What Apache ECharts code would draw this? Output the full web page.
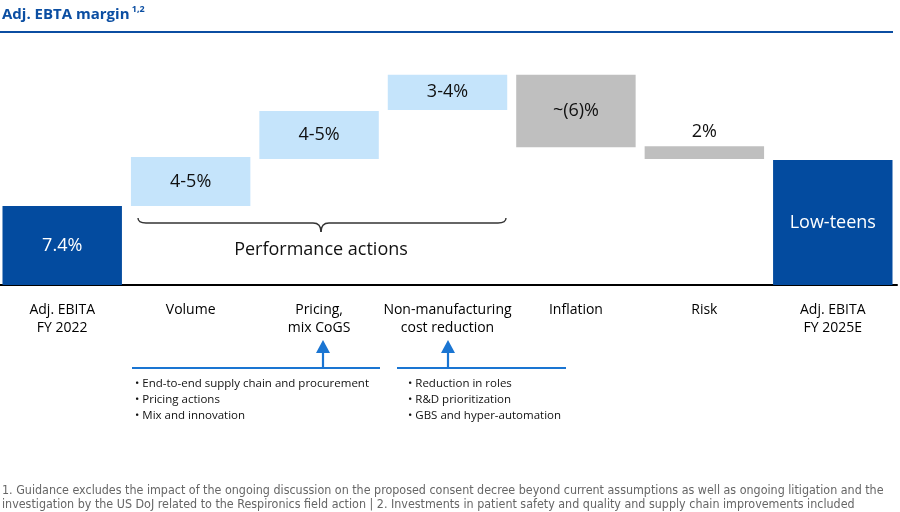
<!DOCTYPE html>
<html>
<head>
<meta charset="utf-8">
<script src="https://cdn.jsdelivr.net/npm/echarts@6/dist/echarts.min.js"></script>
<style>html,body{margin:0;padding:0;background:#fff}#c{width:900px;height:512px}</style>
</head>
<body>
<div id="c"></div>
<script>
var categories = ['Adj. EBITA\nFY 2022', 'Volume', 'Pricing,\nmix CoGS', 'Non-manufacturing\ncost reduction', 'Inflation', 'Risk', 'Adj. EBITA\nFY 2025E'];
var barBase = [0, 7.4, 11.8, 16.4, 12.9, 11.8, 0];
var barTop = [7.4, 12.0, 16.3, 19.7, 19.7, 13.0, 11.7];
var barKind = ['total', 'up', 'up', 'up', 'down', 'down', 'total'];
var barLabels = ['7.4%', '4-5%', '4-5%', '3-4%', '~(6)%', '2%', 'Low-teens'];
var listPricing = ['• End-to-end supply chain and procurement', '• Pricing actions', '• Mix and innovation'];
var listNonMfg = ['• Reduction in roles', '• R&D prioritization', '• GBS and hyper-automation'];
var footnote = ['1. Guidance excludes the impact of the ongoing discussion on the proposed consent decree beyond current assumptions as well as ongoing litigation and the',
  'investigation by the US DoJ related to the Respironics field action | 2. Investments in patient safety and quality and supply chain improvements included'];

var FONT = '"Open Sans", "Noto Sans", sans-serif';
var kindColor = {total: '#034b9f', up: '#c5e4fb', down: '#bfbfbf'};
var kindText = {total: '#ffffff', up: '#111111', down: '#111111'};

var chart = echarts.init(document.getElementById('c'), null, {renderer: 'canvas'});

var deltas = barTop.map(function (t, i) { return +(t - barBase[i]).toFixed(2); });

var option = {
  animation: false,
  textStyle: {fontFamily: FONT},
  title: {
    left: 2, top: 5, padding: 0,
    text: '{a|Adj. EBTA margin}{b| 1,2}',
    textStyle: {
      rich: {
        a: {fontFamily: FONT, fontSize: 15, fontWeight: 'bold', color: '#0b4ea2', verticalAlign: 'bottom'},
        b: {fontFamily: FONT, fontSize: 9, fontWeight: 'bold', color: '#0b4ea2', verticalAlign: 'top', padding: [0, 0, 8, 0]}
      }
    }
  },
  grid: {left: -2, right: 3, top: 71.5, bottom: 227, outerBoundsMode: 'none', containLabel: false},
  xAxis: {
    type: 'category',
    data: categories,
    axisLine: {show: true, lineStyle: {color: '#000', width: 2}},
    axisTick: {show: false},
    axisLabel: {interval: 0, color: '#000', fontSize: 14, lineHeight: 18, margin: 16, fontFamily: FONT}
  },
  yAxis: {type: 'value', min: 0, max: 20, show: false, splitLine: {show: false}},
  series: [
    {
      type: 'bar', stack: 'w', silent: true, barWidth: '93%',
      itemStyle: {color: 'transparent'},
      data: barBase
    },
    {
      type: 'bar', stack: 'w', barWidth: '93%',
      data: deltas.map(function (d, i) {
        var k = barKind[i];
        return {
          value: d,
          itemStyle: {color: kindColor[k]},
          label: {
            show: true,
            position: i === 5 ? 'top' : 'inside',
            distance: 5,
            formatter: barLabels[i],
            color: kindText[k],
            fontSize: 18,
            fontFamily: FONT
          }
        };
      })
    }
  ]
};
chart.setOption(option);

var blue = '#1a75d2';
var g = [];
// title rule
g.push({type: 'line', shape: {x1: 0, y1: 32, x2: 893, y2: 32}, style: {stroke: '#0b4ea2', lineWidth: 2}});
// brace
var bx1 = 138, bx2 = 506, bm = 321, by = 223;
var braceStyle = {stroke: '#333', lineWidth: 1.4, fill: null};
g.push({type: 'bezierCurve', shape: {x1: bx1, y1: by - 5, x2: bx1 + 8, y2: by, cpx1: bx1, cpy1: by}, style: braceStyle});
g.push({type: 'line', shape: {x1: bx1 + 8, y1: by, x2: bm - 8, y2: by}, style: braceStyle});
g.push({type: 'bezierCurve', shape: {x1: bm - 8, y1: by, x2: bm, y2: by + 9, cpx1: bm, cpy1: by}, style: braceStyle});
g.push({type: 'bezierCurve', shape: {x1: bm + 8, y1: by, x2: bm, y2: by + 9, cpx1: bm, cpy1: by}, style: braceStyle});
g.push({type: 'line', shape: {x1: bm + 8, y1: by, x2: bx2 - 8, y2: by}, style: braceStyle});
g.push({type: 'bezierCurve', shape: {x1: bx2 - 8, y1: by, x2: bx2, y2: by - 5, cpx1: bx2, cpy1: by}, style: braceStyle});
g.push({type: 'text', x: bm, y: 250, style: {text: 'Performance actions', font: '18px ' + FONT, fill: '#111', align: 'center', verticalAlign: 'middle'}});
// arrows and rules
function arrow(x, lx1, lx2) {
  g.push({type: 'line', shape: {x1: lx1, y1: 368, x2: lx2, y2: 368}, style: {stroke: blue, lineWidth: 2}});
  g.push({type: 'line', shape: {x1: x, y1: 352, x2: x, y2: 368}, style: {stroke: blue, lineWidth: 2.2}});
  g.push({type: 'polygon', shape: {points: [[x, 340], [x - 7, 353], [x + 7, 353]]}, style: {fill: blue}});
}
arrow(323, 132, 380);
arrow(448, 397, 566);
function list(items, x) {
  items.forEach(function (t, i) {
    g.push({type: 'text', x: x, y: 383.5 + i * 16, style: {text: t, font: '11.5px ' + FONT, fill: '#111', verticalAlign: 'middle'}});
  });
}
list(listPricing, 135);
list(listNonMfg, 408);
footnote.forEach(function (t, i) {
  g.push({type: 'text', x: 2, y: 490.5 + i * 14.5, style: {text: t, font: '12.4px "Liberation Sans Narrow", "DejaVu Sans Condensed", sans-serif', fill: '#666', verticalAlign: 'middle'}});
});
chart.setOption({graphic: g});
</script>
</body>
</html>
